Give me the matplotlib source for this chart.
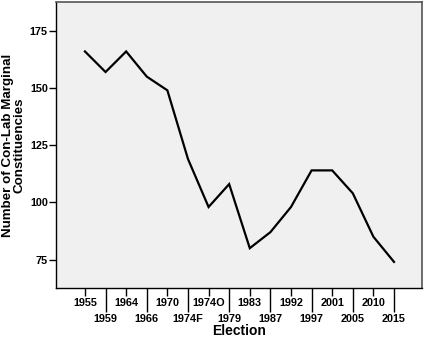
import numpy as np
import matplotlib
matplotlib.use("Agg")
import matplotlib.pyplot as plt

plt.rcParams['font.family'] = ['Liberation Sans', 'DejaVu Sans']
plt.rcParams['font.weight'] = 'bold'

# election labels and number of Con-Lab marginal constituencies
elections = ["1955", "1959", "1964", "1966", "1970", "1974F", "1974O", "1979",
             "1983", "1987", "1992", "1997", "2001", "2005", "2010", "2015"]
marginals = [166, 157, 166, 155, 149, 119, 98, 108,
             80, 87, 98, 114, 114, 104, 85, 74]

fig = plt.figure(figsize=(4.25, 3.38), dpi=100)
ax = fig.add_axes([0.132, 0.148, 0.861, 0.846])
ax.set_facecolor('#f0f0f0')

pos = np.arange(len(elections))
ax.plot(pos, marginals, color='black', lw=1.6, solid_joinstyle='miter')

ax.set_xlim(-1.4, len(elections) + 0.36)
ax.set_ylim(62.6, 187.6)
ax.set_yticks([75, 100, 125, 150, 175])

# two rows of labels: first row on major ticks, second row on longer minor ticks
ax.set_xticks(pos[::2], elections[::2])
ax.set_xticks(pos[1::2], elections[1::2], minor=True)
ax.tick_params(axis='x', which='major', length=6, width=1, pad=1.5, labelsize=7.8)
ax.tick_params(axis='x', which='minor', length=17, width=1, pad=1.5, labelsize=7.8)
ax.tick_params(axis='y', length=5, width=1, pad=1, labelsize=7.8)

for side in ['left', 'bottom']:
    ax.spines[side].set_color('black')
    ax.spines[side].set_linewidth(1)
for side in ['top', 'right']:
    ax.spines[side].set_color('#555555')
    ax.spines[side].set_linewidth(1.2)

ax.set_xlabel('Election', fontsize=10, fontweight='bold')
ax.xaxis.set_label_coords(0.5, -0.125)
ax.set_ylabel('Number of Con-Lab Marginal\nConstituencies', fontsize=9.6,
              fontweight='bold', linespacing=0.95)
ax.yaxis.set_label_coords(-0.084, 0.5)

fig.savefig('out.png', dpi=100)
